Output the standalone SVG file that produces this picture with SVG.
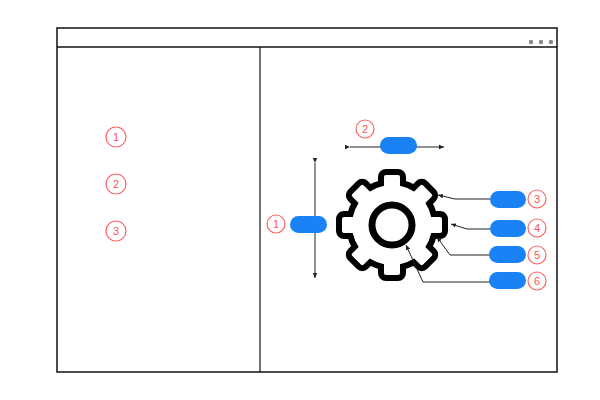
<svg xmlns="http://www.w3.org/2000/svg" xmlns:xlink="http://www.w3.org/1999/xlink" width="600" height="400" viewBox="0 0 600 400">
<style>
.num circle{fill:#fff;stroke:#f66;stroke-width:1.2}
.num text{fill:#f55;font-family:"Liberation Sans",sans-serif;font-size:11px;text-anchor:middle}
.pill{fill:#1a82f5}
.con{fill:none;stroke:#222;stroke-width:1}
</style>
<defs>
<marker id="a" markerWidth="6" markerHeight="6" refX="5" refY="3" orient="auto" markerUnits="userSpaceOnUse"><path d="M0,0.8 L5,3 L0,5.2z" fill="#222"/></marker>
<g id="gs"><circle cx="0" cy="0" r="40"/>
<rect x="-8" y="-50" width="16" height="20" rx="2" transform="rotate(0)"/><rect x="-8" y="-50" width="16" height="20" rx="2" transform="rotate(45)"/><rect x="-8" y="-50" width="16" height="20" rx="2" transform="rotate(90)"/><rect x="-8" y="-50" width="16" height="20" rx="2" transform="rotate(135)"/><rect x="-8" y="-50" width="16" height="20" rx="2" transform="rotate(180)"/><rect x="-8" y="-50" width="16" height="20" rx="2" transform="rotate(225)"/><rect x="-8" y="-50" width="16" height="20" rx="2" transform="rotate(270)"/><rect x="-8" y="-50" width="16" height="20" rx="2" transform="rotate(315)"/></g>
</defs>
<rect width="600" height="400" fill="#fff"/>
<g id="frame" fill="none" stroke="#111">
<rect x="57" y="28" width="500" height="344" stroke-width="1.5"/>
<line x1="57" y1="47" x2="557" y2="47" stroke-width="1.5"/>
<line x1="260" y1="47" x2="260" y2="372" stroke-width="1.2"/>
</g>
<g fill="#888"><circle cx="531" cy="42" r="2.2"/><circle cx="541" cy="42" r="2.2"/><circle cx="551" cy="42" r="2.2"/></g>
<g id="gear" transform="translate(392,225)">
<use xlink:href="#gs" fill="#000" stroke="#000" stroke-width="12" stroke-linejoin="round"/>
<use xlink:href="#gs" fill="#fff"/>
<circle r="20" fill="none" stroke="#000" stroke-width="7"/>
</g>
<g id="connectors">
<line class="con" x1="350" y1="147" x2="444" y2="147" marker-start="url(#a)" marker-end="url(#a)"/>
<line class="con" x1="315" y1="163" x2="315" y2="278" stroke="#555" marker-start="url(#a)" marker-end="url(#a)"/>
<polyline class="con" points="490,199 455,199 438,195" marker-end="url(#a)"/>
<polyline class="con" points="490,229 467,229 451,224" marker-end="url(#a)"/>
<polyline class="con" points="490,255 450,255 437,237" marker-end="url(#a)"/>
<polyline class="con" points="490,282 423,282 406,245" marker-end="url(#a)"/>
</g>
<g id="pills">
<rect class="pill" x="380" y="137" width="37" height="17" rx="8.5"/>
<rect class="pill" x="290" y="216" width="37" height="17" rx="8.5"/>
<rect class="pill" x="490" y="191" width="36" height="17" rx="8.5"/>
<rect class="pill" x="490" y="220" width="36" height="17" rx="8.5"/>
<rect class="pill" x="489" y="246" width="37" height="17" rx="8.5"/>
<rect class="pill" x="489" y="272" width="37" height="17" rx="8.5"/>
</g>
<g class="num" id="labels">
<g><circle cx="116" cy="137" r="10"/><text x="116" y="141">1</text></g>
<g><circle cx="116" cy="184" r="10"/><text x="116" y="188">2</text></g>
<g><circle cx="116" cy="231" r="10"/><text x="116" y="235">3</text></g>
<g><circle cx="276" cy="224" r="9"/><text x="276" y="228">1</text></g>
<g><circle cx="365" cy="129" r="9"/><text x="365" y="133">2</text></g>
<g><circle cx="537" cy="199" r="9"/><text x="537" y="203">3</text></g>
<g><circle cx="537" cy="228" r="9"/><text x="537" y="232">4</text></g>
<g><circle cx="537" cy="255" r="9"/><text x="537" y="259">5</text></g>
<g><circle cx="537" cy="281" r="9"/><text x="537" y="285">6</text></g>
</g>
</svg>
